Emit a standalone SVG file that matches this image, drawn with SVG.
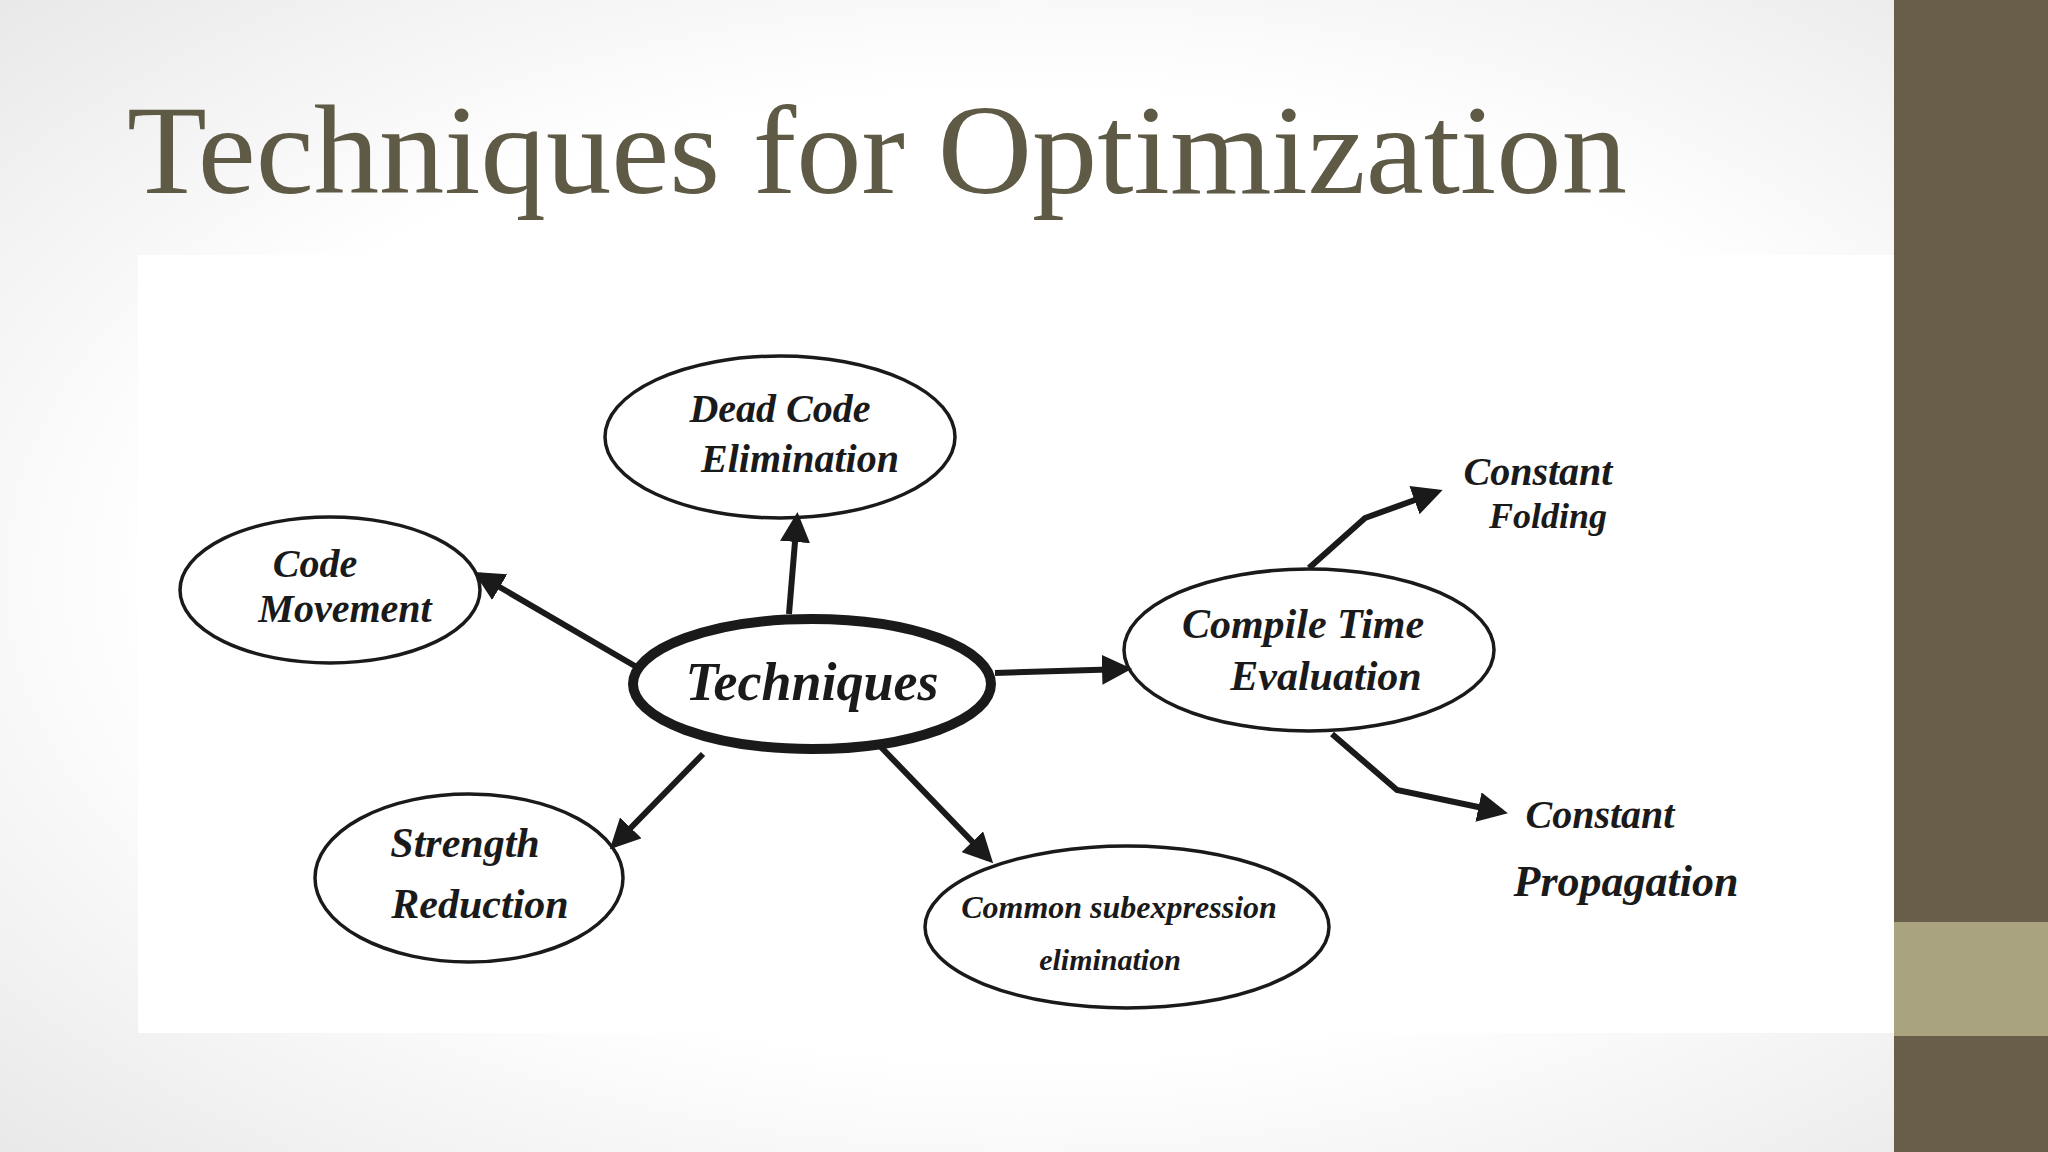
<svg xmlns="http://www.w3.org/2000/svg" width="2048" height="1152" viewBox="0 0 2048 1152">
<defs>
<radialGradient id="bg" cx="0.5" cy="0.5" r="0.7"><stop offset="0.6" stop-color="#ffffff"/><stop offset="1" stop-color="#e9e9e9"/></radialGradient>
<marker id="ah" viewBox="0 0 10 10" refX="8" refY="5" markerWidth="5" markerHeight="5" orient="auto"><path d="M0,0 L10,5 L0,10 Z" fill="#1a1a1a"/></marker>
<style>
.n{fill:none;stroke:#1a1a1a;stroke-width:3.5}
.thick{stroke-width:10}
.t{font-family:"Liberation Serif",serif;font-style:italic;font-weight:bold;fill:#1a1a1a;text-anchor:middle}
.c{stroke:#1a1a1a;stroke-width:6;fill:none;marker-end:url(#ah)}
</style>
</defs>
<rect width="2048" height="1152" fill="url(#bg)"/>
<rect x="138" y="255" width="1756" height="778" fill="#ffffff"/>
<rect x="1894" y="0" width="154" height="1152" fill="#685e4a"/>
<rect x="1894" y="922" width="154" height="114" fill="#a9a37f"/>
<text x="127" y="193" font-family="Liberation Serif,serif" font-size="128" fill="#5e5a45" textLength="1500" lengthAdjust="spacingAndGlyphs">Techniques for Optimization</text>
<g id="connectors">
<line class="c" x1="789" y1="614" x2="797" y2="518"/>
<line class="c" x1="640" y1="669" x2="479" y2="575"/>
<line class="c" x1="995" y1="673" x2="1126" y2="669"/>
<line class="c" x1="703" y1="754" x2="614" y2="845"/>
<line class="c" x1="878" y1="744" x2="989" y2="859"/>
<polyline class="c" points="1309,568 1365,518 1437,492"/>
<polyline class="c" points="1332,734 1397,790 1502,812"/>
</g>
<g id="techniques"><ellipse class="n thick" cx="812" cy="684" rx="179" ry="65"/><text class="t" x="812" y="700" font-size="54">Techniques</text></g>
<g id="dead"><ellipse class="n" cx="780" cy="437" rx="175" ry="81"/><text class="t" x="780" y="422" font-size="40">Dead Code</text><text class="t" x="800" y="472" font-size="40">Elimination</text></g>
<g id="move"><ellipse class="n" cx="330" cy="590" rx="150" ry="73"/><text class="t" x="315" y="577" font-size="40">Code</text><text class="t" x="345" y="622" font-size="40">Movement</text></g>
<g id="compile"><ellipse class="n" cx="1309" cy="650" rx="185" ry="81"/><text class="t" x="1303" y="638" font-size="42">Compile Time</text><text class="t" x="1326" y="690" font-size="42">Evaluation</text></g>
<g id="strength"><ellipse class="n" cx="469" cy="878" rx="154" ry="84"/><text class="t" x="465" y="857" font-size="42">Strength</text><text class="t" x="480" y="918" font-size="42">Reduction</text></g>
<g id="common"><ellipse class="n" cx="1127" cy="927" rx="202" ry="81"/><text class="t" x="1119" y="918" font-size="32">Common subexpression</text><text class="t" x="1110" y="970" font-size="30">elimination</text></g>
<g id="folding"><text class="t" x="1538" y="485" font-size="40">Constant</text><text class="t" x="1548" y="528" font-size="36">Folding</text></g>
<g id="prop"><text class="t" x="1600" y="828" font-size="40">Constant</text><text class="t" x="1626" y="896" font-size="44">Propagation</text></g>
</svg>
